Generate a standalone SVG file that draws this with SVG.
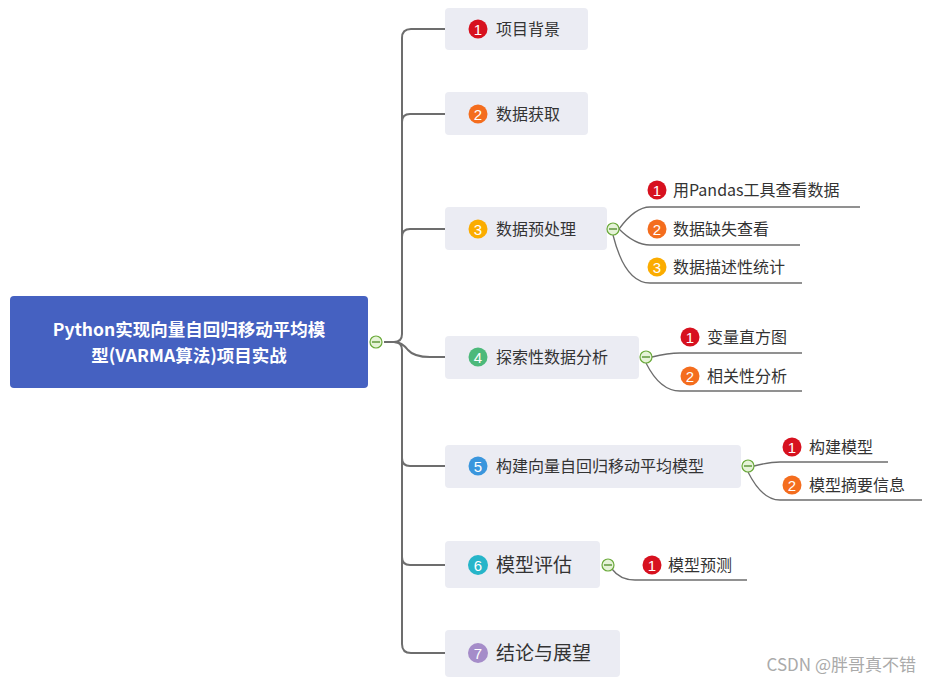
<svg xmlns="http://www.w3.org/2000/svg" width="932" height="685" viewBox="0 0 932 685">
<style>
.box{fill:#ebecf3}
.t{font-family:"Noto Sans CJK SC","Liberation Sans",sans-serif;font-size:16px;fill:#333}
.tl{font-family:"Noto Sans CJK SC","Liberation Sans",sans-serif;font-size:19px;fill:#333}
.bn{font-family:"Liberation Sans",sans-serif;font-size:15px;fill:#fff;text-anchor:middle}
.ln{fill:none;stroke:#6d6d6d;stroke-width:1.3}
.tr{fill:none;stroke:#6d6d6d;stroke-width:2}
.col{fill:#e6f3d8;stroke:#6aaa3a;stroke-width:1.2}
.cm{stroke:#4d8a26;stroke-width:1.3}
</style>
<g id="connectors">
<path class="tr" d="M384,342 H394 Q402,342 402,334 V38 Q402,29 411,29 H445"/>
<path class="tr" d="M402,122 Q402,114 410,114 H445"/>
<path class="tr" d="M402,237 Q402,229 410,229 H445"/>
<path class="tr" stroke-width="3" d="M384,342 H394 Q402,342 408,350 Q414,357 430,357 H445"/>
<path class="tr" d="M394,342 Q402,342 402,350 V644 Q402,653 411,653 H445"/>
<path class="tr" d="M402,458 Q402,466 410,466 H445"/>
<path class="tr" d="M402,557 Q402,565 410,565 H445"/>
<path class="ln" d="M619,229 Q635,207 650,207 H860"/>
<path class="ln" d="M619,229 Q635,245 650,245 H800"/>
<path class="ln" d="M613,235 Q625,283 650,283 H802"/>
<path class="ln" d="M652,357 Q668,353 680,353 H802"/>
<path class="ln" d="M646,363 Q660,391 680,391 H802"/>
<path class="ln" d="M754,466 Q770,462 780,462 H888"/>
<path class="ln" d="M748,472 Q762,500 780,500 H922"/>
<path class="ln" d="M612,569 Q620,580 635,580 H747"/>
</g>
<g id="root">
<rect x="10" y="296" width="358" height="92" rx="4" fill="#4561c1"/>
<text x="189" y="336" text-anchor="middle" font-family="'Noto Sans CJK SC','Liberation Sans',sans-serif" font-size="17.5" font-weight="bold" fill="#fff">Python实现向量自回归移动平均模</text>
<text x="189" y="362" text-anchor="middle" font-family="'Noto Sans CJK SC','Liberation Sans',sans-serif" font-size="17.5" font-weight="bold" fill="#fff">型(VARMA算法)项目实战</text>
<circle class="col" cx="376" cy="342" r="6"/><line class="cm" x1="372" y1="342" x2="380" y2="342"/>
</g>
<g id="n1"><rect class="box" x="445" y="8" width="143" height="42" rx="4"/><circle cx="478" cy="29" r="9.5" fill="#d7111f"/><text class="bn" x="478" y="34.5">1</text><text class="t" x="496" y="35">项目背景</text></g>
<g id="n2"><rect class="box" x="445" y="92" width="143" height="43" rx="4"/><circle cx="478" cy="114" r="9.5" fill="#f46d1e"/><text class="bn" x="478" y="119.5">2</text><text class="t" x="496" y="120">数据获取</text></g>
<g id="n3"><rect class="box" x="445" y="207" width="162" height="43" rx="4"/><circle cx="478" cy="229" r="9.5" fill="#fbac00"/><text class="bn" x="478" y="234.5">3</text><text class="t" x="496" y="235">数据预处理</text>
<circle class="col" cx="613" cy="229" r="6"/><line class="cm" x1="609" y1="229" x2="617" y2="229"/></g>
<g id="n3a"><circle cx="657" cy="190" r="9.5" fill="#d7111f"/><text class="bn" x="657" y="195.5">1</text><text class="t" x="673" y="196">用Pandas工具查看数据</text></g>
<g id="n3b"><circle cx="657" cy="229" r="9.5" fill="#f46d1e"/><text class="bn" x="657" y="234.5">2</text><text class="t" x="673" y="235">数据缺失查看</text></g>
<g id="n3c"><circle cx="657" cy="267" r="9.5" fill="#fbac00"/><text class="bn" x="657" y="272.5">3</text><text class="t" x="673" y="273">数据描述性统计</text></g>
<g id="n4"><rect class="box" x="445" y="336" width="194" height="43" rx="4"/><circle cx="478" cy="357" r="9.5" fill="#4cb97a"/><text class="bn" x="478" y="362.5">4</text><text class="t" x="496" y="363">探索性数据分析</text>
<circle class="col" cx="646" cy="357" r="6"/><line class="cm" x1="642" y1="357" x2="650" y2="357"/></g>
<g id="n4a"><circle cx="690" cy="337" r="9.5" fill="#d7111f"/><text class="bn" x="690" y="342.5">1</text><text class="t" x="707" y="343">变量直方图</text></g>
<g id="n4b"><circle cx="690" cy="376" r="9.5" fill="#f46d1e"/><text class="bn" x="690" y="381.5">2</text><text class="t" x="707" y="382">相关性分析</text></g>
<g id="n5"><rect class="box" x="445" y="445" width="296" height="43" rx="4"/><circle cx="478" cy="466" r="9.5" fill="#3a96dd"/><text class="bn" x="478" y="471.5">5</text><text class="t" x="496" y="472">构建向量自回归移动平均模型</text>
<circle class="col" cx="748" cy="466" r="6"/><line class="cm" x1="744" y1="466" x2="752" y2="466"/></g>
<g id="n5a"><circle cx="792" cy="447" r="9.5" fill="#d7111f"/><text class="bn" x="792" y="452.5">1</text><text class="t" x="809" y="453">构建模型</text></g>
<g id="n5b"><circle cx="792" cy="485" r="9.5" fill="#f46d1e"/><text class="bn" x="792" y="490.5">2</text><text class="t" x="809" y="491">模型摘要信息</text></g>
<g id="n6"><rect class="box" x="445" y="541" width="155" height="47" rx="4"/><circle cx="478" cy="565" r="10" fill="#26b5c9"/><text class="bn" x="478" y="570.5">6</text><text class="tl" x="496" y="572">模型评估</text>
<circle class="col" cx="608" cy="565" r="6"/><line class="cm" x1="604" y1="565" x2="612" y2="565"/></g>
<g id="n6a"><circle cx="652" cy="565" r="9.5" fill="#d7111f"/><text class="bn" x="652" y="570.5">1</text><text class="t" x="668" y="571">模型预测</text></g>
<g id="n7"><rect class="box" x="445" y="630" width="175" height="47" rx="4"/><circle cx="478" cy="653" r="10" fill="#a58cc9"/><text class="bn" x="478" y="658.5">7</text><text class="tl" x="496" y="660">结论与展望</text></g>
<text x="916" y="671" text-anchor="end" font-family="'Noto Sans CJK SC','Liberation Sans',sans-serif" font-size="17" fill="#aaa">CSDN @胖哥真不错</text>
</svg>
